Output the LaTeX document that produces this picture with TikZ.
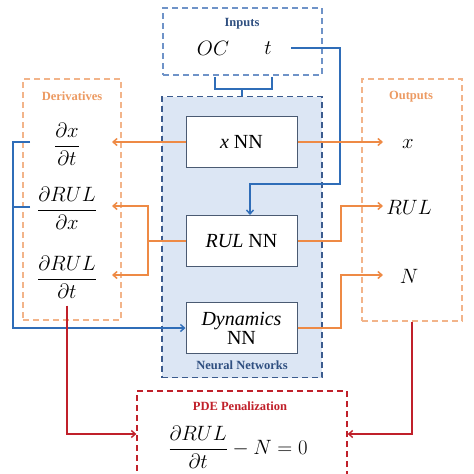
\documentclass[tikz,border=0pt]{standalone}
\usepackage{amsmath}
\usepackage{fontspec}
\setmainfont{Liberation Serif}
\usetikzlibrary{arrows.meta}
\definecolor{inblue}{HTML}{6F93C8}
\definecolor{nnblue}{HTML}{3B5B8E}
\definecolor{nnfill}{HTML}{DCE6F4}
\definecolor{lblblue}{HTML}{2F4F80}
\definecolor{orbox}{HTML}{F2B48A}
\definecolor{orline}{HTML}{EE8A45}
\definecolor{ortext}{HTML}{EC9A62}
\definecolor{bline}{HTML}{2F6DB8}
\definecolor{rline}{HTML}{C0202A}
\definecolor{nnborder}{HTML}{4A5A72}
\newcommand\myBig{\fontsize{20}{22}\selectfont}
\newcommand\myLbl{\fontsize{12.5}{14}\selectfont\bfseries}
\tikzset{
  dbox/.style={dash pattern=on 6pt off 4pt, line width=1.3pt, inner sep=0pt},
  nnbox/.style={draw=nnborder, fill=white, line width=1pt, minimum width=111pt, minimum height=51pt, inner sep=0pt, align=center, font=\myBig},
  bigtxt/.style={inner sep=1pt, font=\myBig},
  lbl/.style={inner sep=0pt, font=\myLbl},
  arr/.style={-{Straight Barb[length=4pt,width=7pt]}},
  orl/.style={draw=orline, line width=1.5pt},
  bll/.style={draw=bline, line width=1.4pt},
  rdl/.style={draw=rline, line width=1.4pt},
}
\begin{document}
\begin{tikzpicture}[x=1pt,y=-1pt]
\path[use as bounding box] (0,0) rectangle (474,474);
\clip (0,0) rectangle (474,474);
% boxes
\node[dbox, draw=inblue, minimum width=159pt, minimum height=67pt] (inbox) at (242.5,41.5) {};
\node[dbox, draw=nnblue, fill=nnfill, minimum width=160pt, minimum height=281pt] (nn) at (242,237) {};
\node[dbox, draw=orbox, minimum width=98pt, minimum height=241pt] (der) at (72,199.5) {};
\node[dbox, draw=orbox, minimum width=100pt, minimum height=242pt] (out) at (412,200) {};
\node[dbox, draw=rline, minimum width=210pt, minimum height=86pt] (pde) at (242,434) {};
% labels
\node[lbl, text=lblblue] (inlbl) at (242,24) {Inputs};
\node[lbl, text=lblblue] (nnlbl) at (242,365) {Neural Networks};
\node[lbl, text=ortext] (derlbl) at (72,96) {Derivatives};
\node[lbl, text=ortext] (outlbl) at (411,97) {Outputs};
\node[lbl, text=rline] (pdelbl) at (240,406) {PDE Penalization};
% inputs
\node[bigtxt] (oc) at (213,48) {$OC$};
\node[bigtxt] (tt) at (268,48) {$t$};
% networks
\node[nnbox] (xnn) at (241.5,142) {\textit{x} NN};
\node[nnbox] (rulnn) at (241.5,241) {\textit{RUL} NN};
\node[nnbox] (dynnn) at (241.5,328) {\textit{Dynamics}\\[-3pt]NN};
% derivatives
\node[bigtxt] (dxdt) at (67,144) {$\dfrac{\partial x}{\partial t}$};
\node[bigtxt] (drdx) at (67,208) {$\dfrac{\partial RUL}{\partial x}$};
\node[bigtxt] (drdt) at (67,277) {$\dfrac{\partial RUL}{\partial t}$};
% outputs
\node[bigtxt] (ox) at (408,144) {$x$};
\node[bigtxt] (orul) at (409,207) {$RUL$};
\node[bigtxt] (on) at (409,276) {$N$};
% equation
\node[bigtxt] (eq) at (238,447) {$\dfrac{\partial RUL}{\partial t} - N = 0$};
% helper coordinates
\coordinate (bl) at (215,77);
\coordinate (br) at (272,77);
\coordinate (bj) at (242,89);
\coordinate (ts) at (291,48);
\coordinate (tc1) at (340,48);
\coordinate (tc2) at (250,184);
\coordinate (larr) at (112,0);
\coordinate (lj) at (148,0);
\coordinate (rarr) at (383,0);
\coordinate (rj) at (341,0);
\coordinate (bx) at (13,0);
\coordinate (bs) at (30,0);
% inputs bracket
\draw[bll] (bl) |- (bj) -| (br);
\draw[bll] (bj) -- (nn.north);
\draw[bll, arr] (ts) -- (tc1) |- (tc2) -- (tc2 |- rulnn.north);
% orange left
\draw[orl, arr] (xnn.west) -- (xnn.west -| larr);
\draw[orl, arr] (rulnn.west) -- (rulnn.west -| lj) |- (larr |- 0,206);
\draw[orl, arr] (rulnn.west -| lj) |- (larr |- 0,275);
% orange right
\draw[orl, arr] (xnn.east) -- (xnn.east -| rarr);
\draw[orl, arr] (rulnn.east) -| (rj |- 0,206) -- (rarr |- 0,206);
\draw[orl, arr] (dynnn.east) -| (rj |- 0,275) -- (rarr |- 0,275);
% blue left
\draw[bll, arr] (bs |- 0,142) -- (bx |- 0,142) |- (dynnn.west);
\draw[bll] (bs |- 0,207) -- (bx |- 0,207);
% red
\draw[rdl, arr] ([yshift=-6pt]drdt.south) |- (pde.west);
\draw[rdl, arr] (out.south) |- (pde.east);
\end{tikzpicture}
\end{document}
